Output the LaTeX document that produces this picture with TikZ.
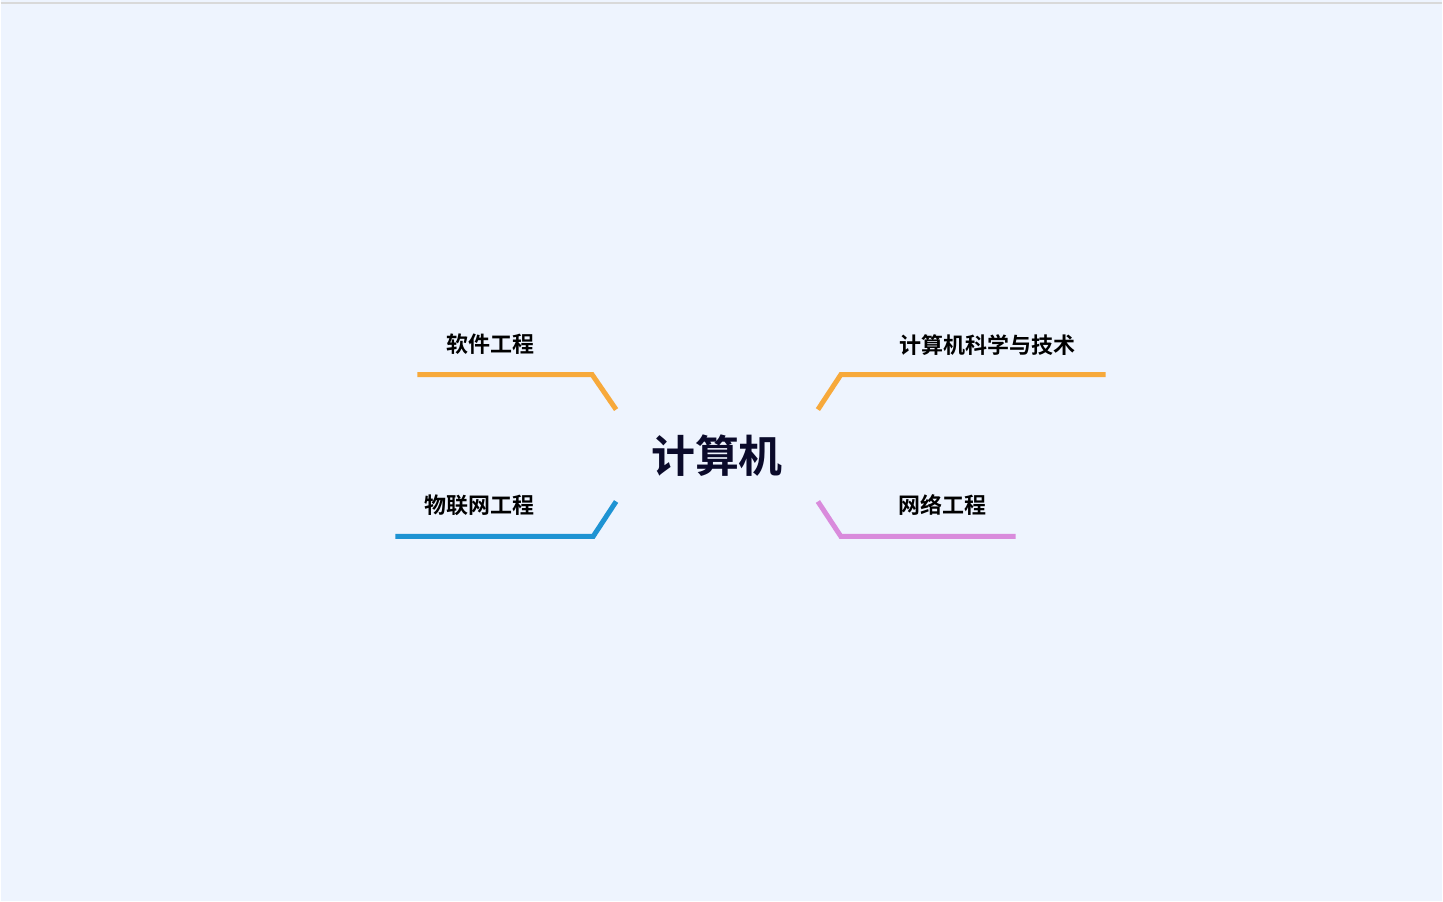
\documentclass[tikz,border=0pt]{standalone}
\usepackage{fontspec}
\setmainfont{Noto Sans CJK SC}[BoldFont={Noto Sans CJK SC Bold}]
\definecolor{bg}{HTML}{EEF4FE}
\definecolor{org}{HTML}{F7A93B}
\definecolor{blu}{HTML}{1E93D3}
\definecolor{pur}{HTML}{D98BDC}
\definecolor{navy}{HTML}{0A0A2A}
\begin{document}
\begin{tikzpicture}[x=1pt,y=-1pt,
  br/.style={line width=5pt},
  lbl/.style={font=\bfseries\fontsize{22}{24}\selectfont, inner sep=0pt}]
\fill[bg] (0,0) rectangle (1443,902);
\draw[gray!30, line width=1.5pt] (0,3) -- (1443,3);
\node[font=\bfseries\fontsize{44}{48}\selectfont, text=navy, inner sep=0pt] (root) at (717,456) {计算机};
\coordinate (a1) at (616,410); \coordinate (a2) at (592,375); \coordinate (a3) at (417,375);
\coordinate (b1) at (818,410); \coordinate (b2) at (841,375); \coordinate (b3) at (1106,375);
\coordinate (c1) at (616,502); \coordinate (c2) at (593,537); \coordinate (c3) at (395,537);
\coordinate (d1) at (818,502); \coordinate (d2) at (841,537); \coordinate (d3) at (1016,537);
\draw[br, org] (a1) -- (a2) -- (a3);
\draw[br, org] (b1) -- (b2) -- (b3);
\draw[br, blu] (c1) -- (c2) -- (c3);
\draw[br, pur] (d1) -- (d2) -- (d3);
\node[lbl] (n1) at (490,345) {软件工程};
\node[lbl] (n2) at (988,345) {计算机科学与技术};
\node[lbl] (n3) at (479,506) {物联网工程};
\node[lbl] (n4) at (943,506) {网络工程};
\end{tikzpicture}
\end{document}
